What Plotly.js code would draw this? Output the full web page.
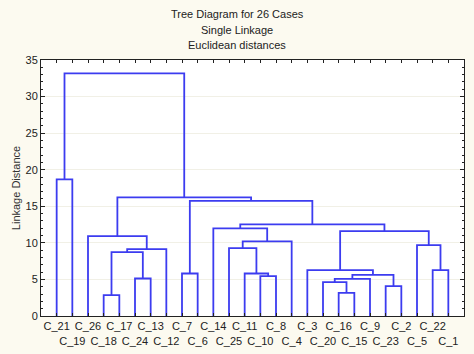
<!DOCTYPE html>
<html><head><meta charset="utf-8">
<script src="https://cdn.plot.ly/plotly-3.0.1.min.js"></script>
<style>html,body{margin:0;padding:0;background:#fcfaf0;}</style>
</head><body>
<div id="chart" style="width:474px;height:354px;"></div>
<script>
// Leaf order along the x axis
var leaves = ["C_21","C_19","C_26","C_18","C_17","C_24","C_13","C_12","C_7","C_6","C_14","C_25","C_11","C_10","C_8","C_4","C_3","C_20","C_16","C_15","C_9","C_23","C_2","C_5","C_22","C_1"];
// Merges: left child, right child, linkage distance (mK = result of merge K)
var mergeLeft  = ["C_18","C_24","m0","m2","C_26","C_7","C_10","C_11","C_25","m8","C_14","C_16","C_20","m12","C_23","m13","C_3","C_22","C_5","m16","m10","m5","m4","C_21","m23"];
var mergeRight = ["C_17","C_13","m1","C_12","m3","C_6","C_8","m6","m7","C_4","m9","C_15","m11","C_9","C_2","m14","m15","C_1","m17","m18","m19","m20","m21","C_19","m22"];
var mergeHeight = [2.85,5.13,8.73,9.14,10.92,5.81,5.44,5.81,9.27,10.19,11.97,3.16,4.62,5.08,4.08,5.62,6.27,6.27,9.69,11.6,12.52,15.75,16.21,18.67,33.17];

var pos = {}, hgt = {};
leaves.forEach(function(n,i){ pos[n] = i+1; hgt[n] = 0; });
var xs = [], ys = [];
for (var k=0;k<mergeHeight.length;k++){
  var a = mergeLeft[k], b = mergeRight[k], h = mergeHeight[k];
  xs.push(pos[a],pos[a],pos[b],pos[b],null);
  ys.push(hgt[a],h,h,hgt[b],null);
  pos["m"+k] = (pos[a]+pos[b])/2; hgt["m"+k] = h;
}
var tickvals = leaves.map(function(n,i){return i+1;});
var ticktext = leaves.map(function(n,i){return i%2===0 ? n : "<br>"+n;});

var font = "Liberation Sans, Arial, sans-serif";
var trace = {x:xs, y:ys, mode:"lines", type:"scatter", line:{color:"#3c3cf0", width:1.8}, hoverinfo:"skip", connectgaps:false};
var titles = ["Tree Diagram for 26 Cases","Single Linkage","Euclidean distances"];
var tpx = [14,30,45];
var annotations = titles.map(function(t,i){
  return {text:t, xref:"paper", yref:"paper", x:(237-41)/423, y:(316-tpx[i])/256, showarrow:false, xanchor:"center", yanchor:"middle", font:{family:font,size:11,color:"#222"}};
});
var layout = {
  width:474, height:354,
  margin:{l:41,r:10,t:60,b:38},
  paper_bgcolor:"#fcfaf0", plot_bgcolor:"#ffffff",
  showlegend:false,
  annotations:annotations,
  xaxis:{range:[0,27], tickvals:tickvals, ticktext:ticktext, tickangle:0, showgrid:false, zeroline:false,
    showline:true, linecolor:"#222", linewidth:1, mirror:"allticks", ticks:"inside", ticklen:3, tickcolor:"#222",
    tickfont:{family:font,size:11,color:"#222"}},
  yaxis:{range:[0,35], dtick:5, tick0:0, showgrid:true, gridcolor:"#f1f0e6", zeroline:false,
    showline:true, linecolor:"#222", linewidth:1, mirror:"allticks", ticks:"inside", ticklen:4, tickcolor:"#222",
    minor:{dtick:1, ticks:"inside", ticklen:2, tickcolor:"#222", showgrid:false},
    tickfont:{family:font,size:11,color:"#222"},
    title:{text:"Linkage Distance", font:{family:font,size:11,color:"#333"}, standoff:2}}
};
Plotly.newPlot("chart",[trace],layout,{displayModeBar:false,staticPlot:true});
</script>
</body></html>
